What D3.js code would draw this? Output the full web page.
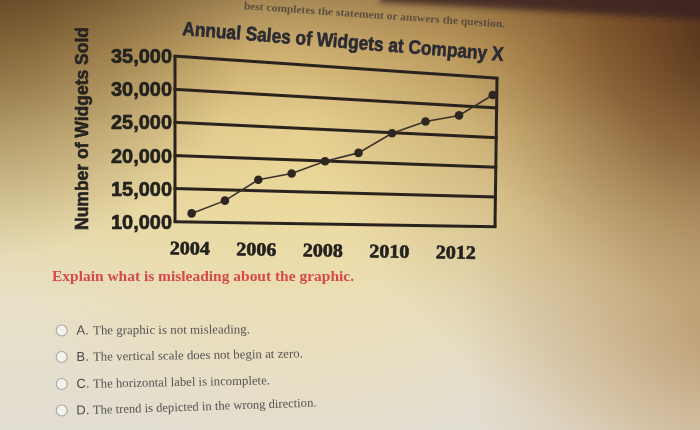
<!DOCTYPE html>
<html><head><meta charset="utf-8">
<script src="https://cdn.jsdelivr.net/npm/d3@7"></script>
<style>html,body{margin:0;padding:0;background:#d8c9a0;overflow:hidden}</style>
</head><body>
<svg id="chart" width="700" height="430"></svg>
<script>
// ---- data ----
const years = [2004,2005,2006,2007,2008,2009,2010,2011,2012,2013];
const sales = [11300,13350,16700,17850,19950,21500,24900,27100,28400,32150];
const yTicks = [10000,15000,20000,25000,30000,35000];
const xTickLabels = [2004,2006,2008,2010,2012];
const titleText = "Annual Sales of Widgets at Company X";
const yTitleText = "Number of Widgets Sold";
const headerText = "best completes the statement or answers the question.";
const questionText = "Explain what is misleading about the graphic.";
const optionLetters = ["A.","B.","C.","D."];
const optionTexts = ["The graphic is not misleading.","The vertical scale does not begin at zero.","The horizontal label is incomplete.","The trend is depicted in the wrong direction."];

// ---- layout ----
const svg = d3.select("#chart");
const defs = svg.append("defs");

function linGrad(id, x2, y2, stops){
  const g = defs.append("linearGradient").attr("id", id).attr("x1",0).attr("y1",0).attr("x2",x2).attr("y2",y2);
  stops.forEach(s => g.append("stop").attr("offset", s[0]).attr("stop-color", s[1]).attr("stop-opacity", s[2] ?? 1));
}
function radGrad(id, cx, cy, r, stops){
  const g = defs.append("radialGradient").attr("id", id).attr("gradientUnits","userSpaceOnUse").attr("cx",cx).attr("cy",cy).attr("r",r);
  stops.forEach(s => g.append("stop").attr("offset", s[0]).attr("stop-color", s[1]).attr("stop-opacity", s[2] ?? 1));
}
linGrad("bgV", 0, 1, [[0,"#8e6c3e"],[0.12,"#b89458"],[0.3,"#d8c086"],[0.5,"#e6d8a8"],[0.7,"#e8e0c6"],[1,"#e2ddd2"]]);
radGrad("glow", 300, 170, 300, [[0,"#f0dc98",0.6],[1,"#f0dc98",0]]);
radGrad("rightDark", 730, 30, 430, [[0,"#4a2814",0.95],[0.3,"#6e4420",0.7],[0.65,"#a07840",0.25],[1,"#a07840",0]]);
radGrad("rightWarm", 720, 330, 260, [[0,"#b89468",0.75],[0.5,"#c8a878",0.4],[1,"#d0b080",0]]);
radGrad("tlDark", -20, -20, 280, [[0,"#4a3418",0.6],[1,"#4a3418",0]]);
defs.append("filter").attr("id","soft").attr("x","-5%").attr("y","-5%").attr("width","110%").attr("height","110%")
  .append("feGaussianBlur").attr("stdDeviation",0.55);
defs.append("filter").attr("id","blurBig").append("feGaussianBlur").attr("stdDeviation",3);

svg.append("rect").attr("width",700).attr("height",430).attr("fill","url(#bgV)");
svg.append("rect").attr("width",700).attr("height",430).attr("fill","url(#glow)");
svg.append("rect").attr("width",700).attr("height",430).attr("fill","url(#tlDark)");
svg.append("rect").attr("width",700).attr("height",430).attr("fill","url(#rightWarm)");
svg.append("rect").attr("width",700).attr("height",430).attr("fill","url(#rightDark)");
svg.append("path").attr("d","M380,-10 L710,-10 L710,20 L380,2 Z").attr("fill","#3a2220").attr("opacity",0.85).attr("filter","url(#blurBig)");

const g = svg.append("g").attr("filter","url(#soft)");

// plot quadrilateral (photo perspective)
const TL=[175,56], TR=[497,78.3], BL=[175,221.7], BR=[495,226.7];
function P(t,s){
  const b=[BL[0]+(BR[0]-BL[0])*t, BL[1]+(BR[1]-BL[1])*t];
  const u=[TL[0]+(TR[0]-TL[0])*t, TL[1]+(TR[1]-TL[1])*t];
  return [b[0]+(u[0]-b[0])*s, b[1]+(u[1]-b[1])*s];
}
const x = d3.scaleLinear().domain([2003.5, 2013.12]).range([0,1]);
const y = d3.scaleLinear().domain([10000,35000]).range([0,1]);

const ink = "#29241f";
// gridlines incl. top & bottom of frame
g.selectAll("line.grid").data(yTicks).join("line").attr("class","grid")
  .attr("x1", d=>P(0,y(d))[0]-1.5).attr("y1", d=>P(0,y(d))[1])
  .attr("x2", d=>P(1,y(d))[0]+1.5).attr("y2", d=>P(1,y(d))[1])
  .attr("stroke", ink).attr("stroke-width",3);
// side edges
[0,1].forEach(t=>{
  const a=P(t,y(35000)), b=P(t,y(10000));
  g.append("line").attr("x1",a[0]).attr("y1",a[1]).attr("x2",b[0]).attr("y2",b[1]).attr("stroke",ink).attr("stroke-width",3);
});

const heavy = sel => sel.attr("stroke", function(){return d3.select(this).attr("fill");}).attr("stroke-width",0.6).attr("paint-order","stroke");

// y tick labels
g.selectAll("text.ytick").data(yTicks).join("text").attr("class","ytick")
  .attr("x", 172).attr("y", d=>P(0,y(d))[1]).attr("dy","0.36em")
  .attr("text-anchor","end").attr("font-family","Liberation Sans, Arial, sans-serif")
  .attr("font-weight","bold").attr("font-size",20).attr("fill","#22201e")
  .attr("textLength",61).attr("lengthAdjust","spacingAndGlyphs")
  .text(d=>d3.format(",")(d)).call(heavy);

// y title
g.append("text").attr("transform","translate(82,128.5) rotate(-90)")
  .attr("text-anchor","middle").attr("dy","0.36em")
  .attr("font-family","Liberation Sans, Arial, sans-serif").attr("font-weight","bold").attr("font-size",17.5)
  .attr("textLength",203).attr("lengthAdjust","spacingAndGlyphs")
  .attr("fill","#262422").text(yTitleText).call(heavy);

// title
g.append("text").attr("transform","translate(182,35) rotate(4.6)")
  .attr("font-family","Liberation Sans, Arial, sans-serif").attr("font-weight","bold").attr("font-size",19.5)
  .attr("textLength",322).attr("lengthAdjust","spacingAndGlyphs")
  .attr("fill","#2a2a32").text(titleText).call(heavy);

// header text (sentence at the top of the screen)
g.append("text").attr("transform","translate(505,27.5) rotate(4.0)").attr("text-anchor","end")
  .attr("font-family","Liberation Serif, Times New Roman, serif").attr("font-weight","bold").attr("font-size",11)
  .attr("textLength",262).attr("lengthAdjust","spacingAndGlyphs")
  .attr("fill","#4e443a").attr("opacity",0.85).text(headerText);

// x tick labels
g.selectAll("text.xtick").data(xTickLabels).join("text").attr("class","xtick")
  .attr("transform", d=>{const p=P(x(d),0); return `translate(${p[0]-2},${p[1]+32.5}) rotate(0.9)`;})
  .attr("text-anchor","middle").attr("font-family","Liberation Serif, Times New Roman, serif")
  .attr("font-weight","bold").attr("font-size",19).attr("fill","#22201e")
  .attr("textLength",40).attr("lengthAdjust","spacingAndGlyphs")
  .text(d=>d).call(heavy);

// data line + dots
const pts = years.map((yr,i)=>({yr, v:sales[i]}));
g.append("path").datum(pts)
  .attr("d", d3.line().x(d=>P(x(d.yr),y(d.v))[0]).y(d=>P(x(d.yr),y(d.v))[1]))
  .attr("fill","none").attr("stroke","#3a332c").attr("stroke-width",1.6);
g.selectAll("circle.pt").data(pts).join("circle").attr("class","pt")
  .attr("cx", d=>P(x(d.yr),y(d.v))[0]).attr("cy", d=>P(x(d.yr),y(d.v))[1])
  .attr("r",4.3).attr("fill","#2d2824");

// question
g.append("text").attr("x",52).attr("y",280.5)
  .attr("font-family","Liberation Serif, Times New Roman, serif").attr("font-weight","bold").attr("font-size",14.5)
  .attr("textLength",302).attr("lengthAdjust","spacingAndGlyphs")
  .attr("fill","#d64a4a").text(questionText);

// options
const optBase = [334.5, 361, 388, 414.5];
const optEnd = [250, 303, 270, 316.7];
const optRot = [-0.4, -0.9, -1.1, -1.9];
optionTexts.forEach((txt,i)=>{
  const o = g.append("g").attr("transform",`translate(0,${optBase[i]})`);
  o.append("circle").attr("cx",61.7).attr("cy",-4).attr("r",5.5)
    .attr("fill","#f4f2ec").attr("stroke","#a9a8a4").attr("stroke-width",1.2);
  const t = o.append("g").attr("transform",`translate(76.5,0) rotate(${optRot[i]})`);
  t.append("text").attr("x",0).attr("font-family","Liberation Sans, Arial, sans-serif")
    .attr("font-size",13).attr("fill","#4c4c4c").text(optionLetters[i]);
  t.append("text").attr("x",16.5).attr("font-family","Liberation Serif, Times New Roman, serif")
    .attr("font-size",12.5).attr("fill","#555352")
    .attr("textLength",optEnd[i]-93).attr("lengthAdjust","spacingAndGlyphs").text(txt);
});
</script>
</body></html>
